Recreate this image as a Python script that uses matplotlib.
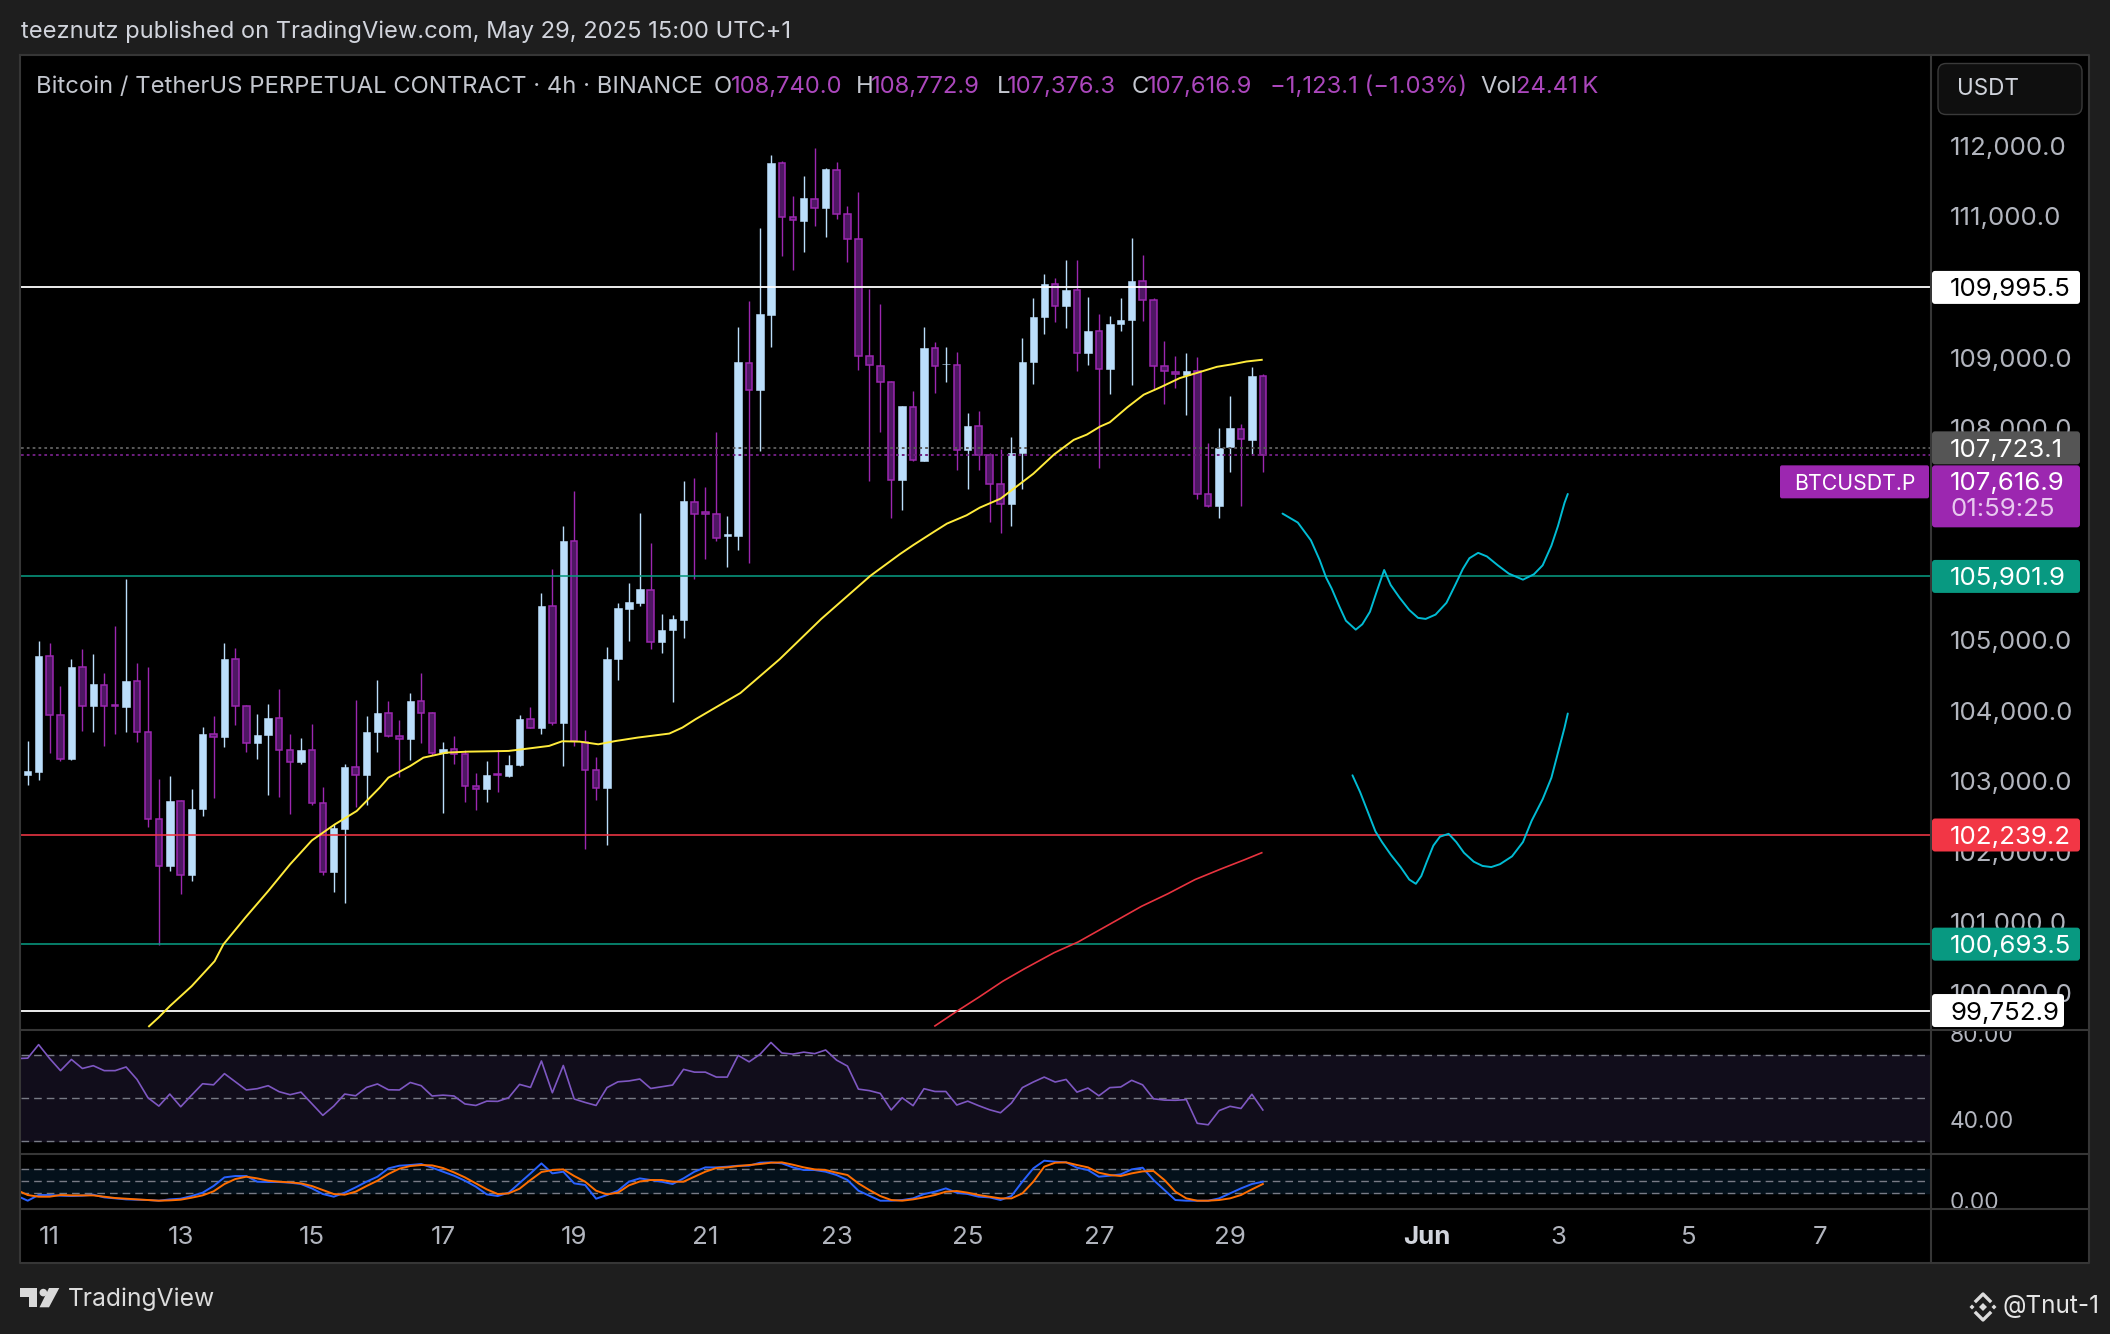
import numpy as np
import matplotlib
matplotlib.use("Agg")
import matplotlib.pyplot as plt
from matplotlib.patches import FancyBboxPatch, Polygon, Circle
from matplotlib.lines import Line2D
from matplotlib.transforms import blended_transform_factory, IdentityTransform, offset_copy

plt.rcParams['font.family'] = ['Inter', 'DejaVu Sans']

# ---------------------------------------------------------------- data
candle_index = list(range(-1, 114))
opens = [103380, 103090, 103132, 104772, 103941, 103312, 104612, 104063, 104366, 104082,
         104049, 104423, 103704, 102466, 101795, 102721, 101672, 102603, 103676, 103628,
         104739, 104068, 103543, 103652, 103903, 103444, 103269, 103444, 102693, 101714,
         102319, 103203, 103085, 103699, 103969, 103643, 103595, 104139, 103969, 103402,
         103458, 103388, 102934, 102891, 103104, 103071, 103227, 103888, 103756, 105476,
         103822, 106406, 103562, 103161, 102910, 104730, 105439, 105524, 105713, 104975,
         105141, 105287, 106954, 106810, 106784, 106480, 106473, 108928, 108541, 109603,
         111751, 110996, 110934, 111251, 111118, 111661, 111038, 110684, 109022, 108885,
         108659, 107271, 108306, 107539, 109139, 108905, 108899, 107699, 108033, 107624,
         107205, 106923, 107657, 108937, 109572, 110038, 109727, 109958, 109068, 109375,
         108843, 109473, 109534, 110085, 109817, 108880, 108800, 108758, 108805, 107064,
         106900, 107731, 107996, 107836, 108740.0]
highs = [103450, 103572, 104990, 104952, 104356, 104739, 104867, 104796, 104527, 105193,
         105859, 104682, 104612, 103038, 103080, 102735, 102896, 103775, 103931, 104952,
         104881, 104080, 103950, 104101, 104314, 103676, 103619, 103818, 102924, 102390,
         103241, 104158, 103931, 104441, 104144, 103874, 104257, 104527, 103988, 103562,
         103647, 103439, 103123, 103293, 103449, 103378, 103945, 104059, 105661, 106001,
         106619, 107105, 103728, 103350, 104909, 105519, 105803, 106794, 106369, 105368,
         105349, 107247, 107289, 107162, 107941, 106751, 109428, 109797, 110830, 111864,
         111779, 111293, 111577, 111964, 111690, 111765, 111142, 111340, 109966, 109754,
         108673, 108320, 108523, 109440, 109229, 109158, 109087, 108212, 108250, 107648,
         107704, 107883, 109285, 109850, 110188, 110127, 110386, 110386, 109864, 109624,
         109596, 109850, 110696, 110457, 109845, 109238, 109031, 109073, 109003, 107789,
         108005, 108452, 108062, 108862, 108772.9]
lows = [103020, 102943, 103014, 103406, 103284, 103300, 103718, 103695, 103496, 103666,
        103695, 103553, 102352, 100679, 101724, 101398, 101582, 102504, 102759, 103482,
        103794, 103411, 103312, 102811, 102773, 102532, 103241, 102660, 101672, 101431,
        101270, 102641, 102664, 103411, 103630, 103061, 103298, 103539, 103373, 102546,
        103241, 102702, 102589, 102702, 102844, 103057, 103220, 103750, 103666, 103794,
        103213, 103496, 102036, 102730, 102097, 104432, 104985, 105481, 104872, 104815,
        104120, 105023, 105870, 106147, 106406, 106038, 106274, 106090, 107681, 109150,
        110439, 110240, 110495, 110864, 110708, 110963, 110354, 108824, 107256, 107950,
        106727, 106848, 107530, 107530, 108499, 108654, 107403, 107144, 107403, 106669,
        106514, 106613, 107135, 108626, 109332, 109501, 109417, 108810, 108894, 107441,
        108485, 109375, 108612, 109515, 108537, 108344, 108570, 108189, 107003, 106880,
        106735, 107380, 106895, 107638, 107376.3]
closes = [103100, 103146, 104777, 103941, 103312, 104612, 104063, 104371, 104063, 104063,
          104423, 103695, 102471, 101795, 102726, 101672, 102612, 103676, 103628, 104739,
          104068, 103543, 103662, 103903, 103444, 103274, 103444, 102693, 101714, 102334,
          103208, 103094, 103704, 103974, 103643, 103595, 104139, 103969, 103402, 103458,
          103383, 102929, 102891, 103094, 103085, 103236, 103888, 103756, 105476, 103827,
          106406, 103567, 103161, 102910, 104739, 105448, 105533, 105717, 104975, 105150,
          105292, 106964, 106784, 106790, 106444, 106500, 108932, 108541, 109612, 111751,
          110996, 110944, 111255, 111123, 111666, 111038, 110684, 109022, 108890, 108659,
          107270, 108311, 107544, 109144, 108885, 108915, 107699, 108038, 107624, 107205,
          106923, 107657, 108946, 109581, 110047, 109727, 109963, 109068, 109379, 108843,
          109478, 109539, 110090, 109821, 108885, 108805, 108767, 108810, 107069, 106900,
          107723, 108000, 107845, 108734, 107616.9]

rsi = [68.2, 68.4, 74.7, 68.3, 62.6, 67.8, 63.6, 64.9, 62.6, 62.6,
       64.3, 58.5, 50.0, 46.1, 51.7, 45.8, 51.2, 56.5, 56.0, 61.2,
       57.4, 53.6, 54.2, 55.6, 52.8, 51.4, 52.6, 47.2, 41.8, 46.1,
       51.7, 50.9, 54.8, 56.4, 53.7, 53.6, 57.1, 55.6, 50.8, 51.2,
       50.8, 47.1, 46.4, 48.4, 48.3, 50.0, 56.2, 54.8, 67.1, 52.3,
       65.0, 49.4, 47.8, 46.4, 54.7, 57.4, 57.8, 58.7, 54.3, 55.1,
       55.9, 63.2, 61.9, 61.9, 59.6, 59.6, 69.7, 66.7, 70.2, 75.7,
       70.8, 70.3, 71.2, 70.5, 72.2, 67.5, 64.7, 54.0, 53.3, 52.0,
       44.3, 50.0, 46.3, 54.2, 52.9, 52.9, 46.6, 48.4, 46.3, 44.4,
       43.0, 47.5, 54.7, 57.3, 59.6, 57.3, 58.5, 52.6, 54.5, 50.9,
       54.7, 55.0, 58.1, 56.0, 49.5, 48.9, 48.8, 49.1, 38.1, 37.4,
       44.0, 46.0, 45.0, 51.6, 44.3]
stoch_k = [12.5, 0, 14.2, 14.2, 12.5, 11.7, 12.5, 15, 8.3, 5.8,
           3.3, 2.5, 1.7, 0, 3.3, 5, 11.7, 20, 36.7, 58.3,
           61.7, 61.7, 47.5, 46.7, 46.7, 45, 41.7, 30.8, 16.7, 10,
           20, 33.3, 47.5, 60, 80.8, 87.5, 89.2, 91.7, 82.5, 72.5,
           62.5, 50, 35, 15.8, 11.7, 20, 44.2, 68.3, 93.3, 68.3,
           72.5, 43.3, 39.2, 5, 14.2, 25, 47.5, 55.8, 51.7, 47.5,
           41.7, 55.8, 72.5, 83.3, 83.3, 85, 87.5, 87.5, 95, 95.8,
           93.3, 83.3, 76.7, 76.7, 72.5, 64.2, 51.7, 25, 12.5, 0,
           0, 1.7, 5.8, 16.7, 22.5, 30.8, 20, 16.7, 10, 8.3,
           1.7, 11.7, 47.5, 80.8, 100, 97.5, 95.8, 82.5, 76.7, 60,
           62.5, 65.8, 78.3, 82.5, 51.7, 26.7, 1.7, 0, 0, 0,
           5.8, 18.3, 30.8, 41.7, 47.5]
stoch_d = [26.7, 14.2, 10, 10, 14.2, 13.3, 13.3, 13.3, 10, 6.7,
           5, 3.3, 1.7, 0, 0.8, 2.5, 7.5, 13.3, 23.3, 41.7,
           54.2, 60, 55.8, 50, 47.5, 45.8, 43.3, 36.7, 26.7, 16.7,
           15, 22.5, 36.7, 50, 66.7, 80, 86.7, 89.2, 88.3, 81.7,
           70.8, 58.3, 43.3, 28.3, 16.7, 18.3, 30, 51.7, 71.7, 76.7,
           78.3, 61.7, 47.5, 25, 15.8, 20, 38.3, 48, 51.7, 51.7,
           47.5, 47.5, 60, 72.5, 81.7, 83.3, 86.7, 89.2, 91.7, 95,
           95.8, 90, 83.3, 78.3, 76.7, 70, 64.2, 43.3, 26.7, 11.7,
           1.7, 0, 3.3, 8.3, 14.2, 22.5, 24.2, 20, 14.2, 10,
           5.8, 5.8, 18.3, 47.5, 85, 95, 95.8, 89.2, 83.3, 70,
           64.2, 61.7, 68.3, 73.3, 74.2, 51.7, 22.5, 5.8, 0, 0,
           1.7, 5.8, 14.2, 28.3, 41.7]

ma_yellow_x = [11.1, 12.0, 13.0, 15.0, 17.1, 17.9, 19.9, 22.0, 24.0, 26.0,
               28.1, 30.1, 32.2, 33.0, 35.0, 36.2, 38.3, 40.3, 42.4, 44.0,
               46.0, 47.7, 48.9, 50.5, 52.2, 53.8, 55.8, 58.7, 59.9, 61.1,
               65.2, 68.8, 72.6, 77.1, 79.8, 81.0, 82.9, 84.1, 85.9, 87.1,
               89.0, 90.2, 92.0, 93.9, 95.7, 96.9, 98.1, 99.0, 100.6, 102.1,
               103.6, 105.4, 107.3, 108.8, 110.3, 111.5, 112.9]
ma_yellow_y = [99530, 99658, 99815, 100098, 100452, 100689, 101067, 101445, 101823, 102163,
               102390, 102579, 102910, 103052, 103217, 103335, 103406, 103420, 103425, 103430,
               103468, 103501, 103567, 103562, 103524, 103571, 103619, 103676, 103761, 103879,
               104250, 104730, 105300, 105911, 106218, 106344, 106533, 106650, 106768, 106876,
               107003, 107144, 107356, 107629, 107836, 107911, 108024, 108085, 108297, 108476,
               108579, 108711, 108800, 108871, 108909, 108946, 108970]
ma_red_x = [83.0, 85.1, 87.0, 89.2, 91.2, 93.9, 96.1, 99.0, 101.9, 104.3, 106.8, 109.2, 111.3, 112.9]
ma_red_y = [99535, 99752, 99940, 100167, 100345, 100572, 100724, 100976, 101229, 101406,
            101608, 101760, 101887, 101988]

path_upper_x = [114.8, 116.2, 117.4, 118.2, 118.8, 119.3, 120.0, 120.6, 121.5, 122.1,
                122.8, 123.4, 124.1, 124.7, 125.5, 126.4, 127.2, 127.9, 128.8, 129.8,
                130.6, 131.3, 131.9, 132.7, 133.5, 134.5, 135.5, 136.8, 137.8, 138.6,
                139.4, 140.0, 140.6, 140.9]
path_upper_y = [106792, 106665, 106413, 106134, 105882, 105730, 105477, 105275, 105148, 105224,
                105401, 105679, 105993, 105780, 105603, 105426, 105315, 105300, 105361, 105528,
                105780, 106008, 106160, 106236, 106185, 106059, 105942, 105856, 105932, 106059,
                106337, 106615, 106944, 107070]
path_lower_x = [121.2, 121.9, 122.6, 123.3, 123.9, 124.7, 125.6, 126.4, 127.0, 127.5,
                128.0, 128.6, 129.2, 130.0, 130.7, 131.4, 132.3, 133.1, 133.9, 134.7,
                135.8, 136.8, 137.6, 138.6, 139.4, 140.0, 140.6, 140.9]
path_lower_y = [103085, 102847, 102569, 102291, 102140, 101962, 101786, 101608, 101548, 101659,
                101861, 102089, 102215, 102256, 102139, 101988, 101861, 101801, 101785, 101826,
                101937, 102140, 102443, 102746, 103050, 103404, 103758, 103960]

level_prices = [109995.5, 105901.9, 102239.2, 100693.5, 99752.9]
level_names = ['109,995.5', '105,901.9', '102,239.2', '100,693.5', '99,752.9']
level_colors = ['#ffffff', '#089981', '#f23645', '#089981', '#ffffff']
level_text_colors = ['#000000', '#ffffff', '#ffffff', '#ffffff', '#000000']
prev_close_price = 107723.1
last_price = 107616.9
countdown = '01:59:25'
# ticks hidden behind the price labels in the reference are left out
price_ticks = [100000, 101000, 102000, 103000, 104000, 105000, 108000, 109000, 111000, 112000]
rsi_ticks = [80, 40]
stoch_ticks = [0]
date_tick_pos = [2, 14, 26, 38, 50, 62, 74, 86, 98, 110, 128, 140, 152, 164]
date_tick_labels = ['11', '13', '15', '17', '19', '21', '23', '25', '27', '29', 'Jun', '3', '5', '7']

header_text = 'teeznutz published on TradingView.com, May 29, 2025 15:00 UTC+1'
symbol_text = 'Bitcoin / TetherUS PERPETUAL CONTRACT \u00b7 4h \u00b7 BINANCE'
legend_pieces = [('O', 'g', 714), ('108,740.0', 'p', 731), ('H', 'g', 855.7), ('108,772.9', 'p', 870.6),
                 ('L', 'g', 996.5), ('107,376.3', 'p', 1006.7), ('C', 'g', 1131.4),
                 ('107,616.9', 'p', 1146.4), ('\u22121,123.1 (\u22121.03%)', 'p', 1270.5),
                 ('Vol', 'g', 1480), ('24.41\u2009K', 'p', 1516)]

# ---------------------------------------------------------------- style
W, H = 2110, 1334
BG = '#1e1e1e'
FRAME = '#363636'
GREY_TXT = '#b2b5be'
UP = '#bbdefb'
DN_FILL = '#4e1763'
DN_EDGE = '#9c27b0'
PURPLE_TXT = '#ab47bc'
XL = (-0.659, 174.13)
TXT_DY = 2.5   # label text sits slightly below the geometric centre

fig = plt.figure(figsize=(W / 100, H / 100), dpi=100)
fig.patch.set_facecolor(BG)
R = fig.canvas.get_renderer()


def add_ax(x0, y0, x1, y1, fc='black'):
    a = fig.add_axes([x0 / W, 1 - y1 / H, (x1 - x0) / W, (y1 - y0) / H])
    a.set_facecolor(fc)
    a.set_xticks([])
    a.set_yticks([])
    for s in a.spines.values():
        s.set_visible(False)
    return a


def fit_size(s, width, base=20, **kw):
    t = fig.text(0, 0, s, fontsize=base, **kw)
    w = t.get_window_extent(R).width
    t.remove()
    return base * width / w


def ptext(x, y, s, size, color, ha='left', va='center', z=12, **kw):
    return fig.text(x / W, 1 - y / H, s, fontsize=size, color=color, ha=ha, va=va, zorder=z, **kw)


def box_px(x0, ytop, x1, ybot, fc, ec=None, r=3, z=10, lw=0):
    p = FancyBboxPatch((x0, H - ybot), x1 - x0, ybot - ytop,
                       boxstyle=f'round,pad=0,rounding_size={r}', fc=fc,
                       ec=ec if ec else fc, lw=lw, transform=IdentityTransform(), zorder=z)
    fig.add_artist(p)
    return p


def line_px(xs, ys, color, lw=1.0, z=9):
    fig.add_artist(Line2D(xs, [H - y for y in ys], color=color, lw=lw,
                          transform=IdentityTransform(), zorder=z))


# panels
Y_MAIN = (55, 1029.8)
Y_RSI = (1029.8, 1153.7)
Y_STO = (1153.7, 1208.6)
Y_DATE = (1208.6, 1263)
X_L, X_R, X_END = 20.5, 1931, 2089

ax = add_ax(X_L, Y_MAIN[0], X_R, Y_MAIN[1])
ax_rsi = add_ax(X_L, Y_RSI[0], X_R, Y_RSI[1])
ax_sto = add_ax(X_L, Y_STO[0], X_R, Y_STO[1])
ax_date = add_ax(X_L, Y_DATE[0], X_R, Y_DATE[1])
axr = add_ax(X_R, Y_MAIN[0], X_END, Y_MAIN[1])
axr_rsi = add_ax(X_R, Y_RSI[0], X_END, Y_RSI[1])
axr_sto = add_ax(X_R, Y_STO[0], X_END, Y_STO[1])
add_ax(X_R, Y_DATE[0], X_END, Y_DATE[1])

for a in (ax, ax_rsi, ax_sto, ax_date):
    a.set_xlim(*XL)
ax.set_ylim(99480, 113287.5)
axr.set_ylim(99480, 113287.5)
ax_rsi.set_ylim(23.95, 81.6)
axr_rsi.set_ylim(23.95, 81.6)
ax_sto.set_ylim(-19.75, 117.5)
axr_sto.set_ylim(-19.75, 117.5)

# ---------------------------------------------------------------- candles
x = np.array(candle_index, dtype=float)
o = np.array(opens); h = np.array(highs); l = np.array(lows); c = np.array(closes)
up = c >= o
ax.vlines(x[up], l[up], h[up], color=UP, lw=1.0, zorder=2)
ax.vlines(x[~up], l[~up], h[~up], color=DN_EDGE, lw=1.0, zorder=2)
ax.bar(x[up], np.maximum(c[up] - o[up], 12), bottom=o[up], width=0.68,
       color=UP, edgecolor=UP, lw=0.4, zorder=3)
ax.bar(x[~up], np.maximum(o[~up] - c[~up], 12), bottom=c[~up], width=0.6,
       facecolor=DN_FILL, edgecolor=DN_EDGE, lw=1.1, zorder=3)

# levels
for p, col in zip(level_prices, level_colors):
    ax.axhline(p, color=col, lw=1.3 if col == '#ffffff' else 1.15, zorder=4)
ax.axhline(prev_close_price, color='#5a5a5a', lw=1.4, ls=(0, (1.4, 1.6)), zorder=4)
ax.axhline(last_price, color='#6f1f80', lw=1.4, ls=(0, (1.4, 1.6)), zorder=4)

# moving averages
ax.plot(ma_yellow_x, ma_yellow_y, color='#ffeb3b', lw=1.4, zorder=5)
ax.plot(ma_red_x, ma_red_y, color='#e8333f', lw=1.2, zorder=5)

# drawings
ax.plot(path_upper_x, path_upper_y, color='#00bcd4', lw=1.4, zorder=6, solid_capstyle='round')
ax.plot(path_lower_x, path_lower_y, color='#00bcd4', lw=1.4, zorder=6, solid_capstyle='round')

# ---------------------------------------------------------------- RSI
ax_rsi.axhspan(30, 70, color='#110d1b', zorder=0)
for v in (70, 50, 30):
    ax_rsi.axhline(v, color='#787b86', lw=1.0, ls=(0, (5.5, 3.6)), zorder=1)
ax_rsi.plot(candle_index, rsi, color='#7e57c2', lw=1.2, zorder=3)

# ---------------------------------------------------------------- Stoch RSI
ax_sto.axhspan(20, 80, color='#04111b', zorder=0)
for v in (80, 50, 20):
    ax_sto.axhline(v, color='#787b86', lw=1.0, ls=(0, (5.5, 3.6)), zorder=1)
ax_sto.plot(candle_index, stoch_k, color='#2962ff', lw=1.4, zorder=3)
ax_sto.plot(candle_index, stoch_d, color='#ff6d00', lw=1.4, zorder=4)

# ---------------------------------------------------------------- axis labels
fs_price = fit_size('112,000.0', 117)
tr = offset_copy(blended_transform_factory(axr.transAxes, axr.transData), fig=fig,
                 y=-TXT_DY, units='dots')
for p in price_ticks:
    axr.text(0.12, p, f'{p:,.1f}', transform=tr, fontsize=fs_price, color=GREY_TXT,
             ha='left', va='center', clip_on=True)
fs_ind = fit_size('40.00', 64)
tr2 = offset_copy(blended_transform_factory(axr_rsi.transAxes, axr_rsi.transData), fig=fig,
                  y=-TXT_DY, units='dots')
for v in rsi_ticks:
    axr_rsi.text(0.12, v, f'{v:.2f}', transform=tr2, fontsize=fs_ind, color=GREY_TXT,
                 ha='left', va='center', clip_on=True)
tr3 = offset_copy(blended_transform_factory(axr_sto.transAxes, axr_sto.transData), fig=fig,
                  y=-TXT_DY, units='dots')
for v in stoch_ticks:
    axr_sto.text(0.12, v, f'{v:.2f}', transform=tr3, fontsize=fs_ind, color=GREY_TXT,
                 ha='left', va='center', clip_on=True)

fs_date = fit_size('13', 26.5)
trd = blended_transform_factory(ax_date.transData, ax_date.transAxes)
for pos, lab in zip(date_tick_pos, date_tick_labels):
    ax_date.text(pos, 0.47, lab, transform=trd, fontsize=fs_date,
                 color='#d1d4dc' if lab == 'Jun' else GREY_TXT,
                 fontweight='bold' if lab == 'Jun' else 'normal', ha='center', va='center')


def ypx(price):
    return H - ax.transData.transform((0, price))[1]


# level boxes on price scale
for p, name, col, tcol in zip(level_prices, level_names, level_colors, level_text_colors):
    yc = ypx(p)
    x1 = 2064 if name.startswith('99') else 2080
    box_px(1932, yc - 16.5, x1, yc + 16.5, col, r=3)
    ptext(1950, yc + TXT_DY, name, fs_price, tcol)

# previous close (grey) and last price (purple) boxes
yg = ypx(prev_close_price)
box_px(1932, yg - 16.5, 2080, yg + 16.5, '#555555', r=3)
ptext(1950, yg + TXT_DY, f'{prev_close_price:,.1f}', fs_price, '#ffffff')
ytop = yg + 16.5
box_px(1932, ytop + 1, 2080, ytop + 63, '#9c27b0', r=3)
ptext(1950, ytop + 17 + TXT_DY, f'{last_price:,.1f}', fs_price, '#ffffff')
ptext(1950, ytop + 43 + TXT_DY, countdown, fs_price, '#e8c8ef')
box_px(1780, ytop + 1, 1929, ytop + 34, '#9c27b0', r=2)
ptext(1854.5, ytop + 17.5 + TXT_DY, 'BTCUSDT.P', fit_size('BTCUSDT.P', 122), '#ffffff', ha='center')

# USDT button
box_px(1938, 63.5, 2082, 114.5, '#0f0f0f', ec='#3a3a3a', r=8, lw=1.0)
ptext(1957, 89, 'USDT', fit_size('USDT', 62), '#d1d4dc')

# ---------------------------------------------------------------- frame
line_px([20, X_END, X_END, 20, 20], [55, 55, 1263, 1263, 55], FRAME, lw=1.5)
line_px([X_R, X_R], [55, 1263], FRAME, lw=1.5)
for yy in (Y_MAIN[1], Y_RSI[1], Y_STO[1]):
    line_px([20, X_END], [yy, yy], FRAME, lw=1.5)

# ---------------------------------------------------------------- header / legend
ptext(21, 32, header_text, fit_size(header_text, 770), '#d1d4dc')
fs_leg = fit_size(symbol_text, 667)
ptext(36.5, 87, symbol_text, fs_leg, '#c3c6ce')
for s, kind, xs in legend_pieces:
    ptext(xs, 87, s, fs_leg, '#c3c6ce' if kind == 'g' else PURPLE_TXT)

# ---------------------------------------------------------------- footer
logo_col = '#d9d9d9'
fig.add_artist(Polygon([(20, H - 1288), (36.7, H - 1288), (36.7, H - 1307.3), (29.3, H - 1307.3),
                        (29.3, H - 1296.5), (20, H - 1296.5)], closed=True, fc=logo_col, ec='none',
                       transform=IdentityTransform(), zorder=10))
fig.add_artist(Circle((43.3, H - 1292.6), 3.8, fc=logo_col, ec='none',
                      transform=IdentityTransform(), zorder=10))
fig.add_artist(Polygon([(49, H - 1288), (59.3, H - 1288), (49, H - 1307.3), (39.5, H - 1307.3)],
                       closed=True, fc=logo_col, ec='none', transform=IdentityTransform(), zorder=10))
ptext(68, 1299, 'TradingView', fit_size('TradingView', 147), '#dcdcdc')

# binance-like icon
cx, cy = 1983, 1307
fig.add_artist(Polygon([(cx, H - cy + 4), (cx + 4, H - cy), (cx, H - cy - 4), (cx - 4, H - cy)],
                       closed=True, fc='#dcdcdc', ec='none', transform=IdentityTransform(), zorder=10))
for dx in (-11, 11):
    fig.add_artist(Polygon([(cx + dx, H - cy + 2.5), (cx + dx + 2.5, H - cy), (cx + dx, H - cy - 2.5),
                            (cx + dx - 2.5, H - cy)], closed=True, fc='#dcdcdc', ec='none',
                           transform=IdentityTransform(), zorder=10))
line_px([cx - 7, cx, cx + 7], [cy - 6, cy - 13, cy - 6], '#dcdcdc', lw=2.4, z=10)
line_px([cx - 7, cx, cx + 7], [cy + 6, cy + 13, cy + 6], '#dcdcdc', lw=2.4, z=10)
ptext(2003, 1307, '@Tnut-1', fit_size('@Tnut-1', 97), '#e6e6e6')

fig.savefig('out.png', dpi=100, facecolor=fig.get_facecolor())
